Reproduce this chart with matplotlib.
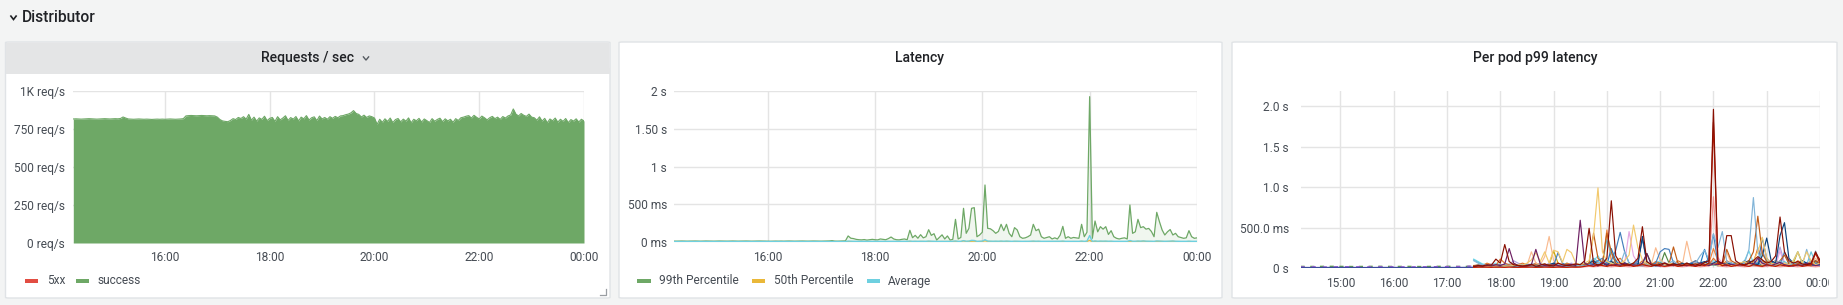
import numpy as np
import matplotlib
matplotlib.use("Agg")
import matplotlib.pyplot as plt
from matplotlib.patches import FancyBboxPatch, Rectangle
from matplotlib.lines import Line2D
from matplotlib.transforms import Bbox, TransformedBbox

W, H = 1843, 305
plt.rcParams['font.family'] = ['Roboto', 'DejaVu Sans']

# ---------------- data ----------------
section_title = "Distributor"
panel_titles = ["Requests / sec", "Latency", "Per pod p99 latency"]

series_start_min = 855   # 14:15
series_step_min = 3

success_rps = [
    816, 817, 816, 815, 816, 817, 818, 817, 816, 815, 816, 817, 818, 817, 816, 817, 818, 817, 819,
    829, 822,
    816, 815, 814, 815, 816, 815, 814, 815, 814, 813, 814, 815, 814, 815, 814, 815, 816, 815, 814, 815, 816, 818,
    836, 838, 839, 838, 837, 838, 839, 838, 837, 838, 837, 836,
    828, 812,
    803, 800, 798, 806,
    818, 812, 826, 819, 831, 815, 846,
    808, 828, 802, 823, 813, 834, 805, 820, 826, 800, 831, 810, 822, 837, 806, 825, 815, 832, 803, 828,
    817, 838, 809, 824, 830, 805, 835, 816, 826,
    814, 831, 820, 833, 824, 836, 838, 844,
    848, 856, 871, 852,
    846, 829, 841, 826, 836, 831,
    822, 781,
    814, 794, 817, 800, 822, 792, 812, 819, 797, 815, 802, 823, 791, 814, 804, 820, 796, 816, 805, 793,
    818, 801, 813, 821, 798, 817, 803, 814, 794, 818, 806, 824, 828, 834,
    838, 822, 840, 827, 816, 835, 824, 810, 824, 833,
    818, 828, 813, 832, 822, 836, 842,
    882,
    848, 836, 852, 840, 833, 848, 828,
    824, 808, 830, 802, 820, 791, 816, 804, 822, 795, 814, 800, 819, 792, 812, 802, 817, 796, 814, 803,
]

p99_ms = [
    12, 11, 12, 13, 12, 11, 12, 12, 13, 12, 11, 12, 13, 12, 12, 11, 12, 13, 12, 12,
    11, 12, 13, 12, 11, 12, 12, 13, 12, 11, 12, 12, 13, 12, 12, 11, 10, 11, 12, 11,
    12, 11, 12, 13, 12, 11, 12, 12, 13, 12, 11, 12, 13, 12, 12, 11, 12, 13, 14, 18,
    12, 11, 12, 13,
    15, 80, 50, 45, 35, 30, 28, 32, 25, 30, 35, 30, 28, 40, 35, 30, 45, 66, 40, 30,
    28, 35, 40, 30, 155, 57, 88, 50, 97, 55, 70, 163, 88,
    110, 26, 60, 95, 40, 80, 26, 35, 300, 40, 60, 446, 115, 180, 446, 455, 70, 93, 130, 755,
    181, 175, 150, 115, 140, 234, 150, 234, 115, 70, 190, 160, 70, 49, 55, 70, 93, 234, 150, 170,
    70, 49, 60, 70, 40, 55, 40, 90, 207, 49, 70, 49, 60, 55, 49, 234, 70, 130, 1925, 49,
    278, 135, 203, 170, 203, 100, 150, 70, 49, 40, 49, 55, 40, 490, 115, 135, 300, 190, 203, 170,
    180, 140, 70, 393, 270, 160, 93, 135, 165, 93, 115, 70, 60, 49, 55, 150, 70, 49, 55,
]
p50_ms = [
    4, 5, 4, 4, 5, 4, 5, 4, 4, 5, 4, 4, 5, 4, 5, 4, 4, 5, 4, 4,
    5, 4, 4, 5, 4, 5, 4, 4, 5, 4, 4, 5, 4, 4, 5, 4, 5, 4, 4, 5,
    4, 4, 5, 4, 5, 4, 4, 5, 4, 4, 5, 4, 4, 5, 4, 5, 4, 4, 5, 4,
    4, 5, 4, 5, 5,
    6, 6, 5, 6, 5, 6, 6, 5, 6, 5, 6, 5, 6, 6, 5, 6, 7, 6, 5, 6,
    6, 5, 6, 8, 6, 7, 6, 7, 6, 6, 8, 6, 6, 5, 6, 6, 5, 6, 5, 7,
    9, 6, 6, 14, 7, 8, 10, 11, 6, 7, 8, 16, 8, 7, 6, 7, 6, 8, 6, 8,
    6, 5, 7, 6, 5, 5, 6, 5, 6, 8, 6, 7, 5, 5, 6, 5, 5, 6, 5, 6,
    8, 5, 6, 5, 6, 5, 5, 8, 5, 7, 22, 5, 9, 6, 8, 7, 8, 6, 7, 5,
    5, 5, 5, 6, 5, 10, 6, 6, 9, 7, 12, 7, 7, 6, 5, 9, 8, 6, 5, 6,
    7, 11, 6, 5, 5, 5, 5, 7, 5, 5, 5,
]
avg_ms = [
    5, 6, 5, 5, 6, 5, 6, 5, 5, 6, 5, 5, 6, 5, 6, 5, 5, 6, 5, 5,
    6, 5, 5, 6, 5, 6, 5, 5, 6, 5, 5, 6, 5, 5, 6, 5, 6, 5, 5, 6,
    5, 5, 6, 5, 6, 5, 5, 6, 5, 5, 6, 5, 5, 6, 5, 6, 5, 5, 6, 5,
    5, 6, 5, 6, 6,
    12, 10, 9, 9, 8, 9, 9, 8, 9, 8, 9, 8, 9, 9, 8, 9, 10, 9, 8, 9,
    9, 8, 9, 12, 9, 10, 9, 10, 9, 9, 12, 10, 9, 8, 9, 9, 8, 9, 8, 10,
    13, 9, 9, 18, 10, 12, 22, 20, 9, 10, 12, 30, 12, 11, 10, 11, 10, 12, 10, 12,
    10, 9, 11, 10, 9, 9, 9, 9, 10, 12, 10, 11, 9, 9, 9, 9, 9, 9, 9, 10,
    12, 9, 9, 9, 9, 9, 9, 12, 9, 12, 85, 9, 14, 10, 12, 11, 12, 10, 11, 9,
    9, 9, 9, 9, 9, 20, 10, 10, 13, 11, 14, 11, 11, 10, 9, 14, 12, 10, 9, 10,
    11, 13, 10, 9, 9, 9, 9, 11, 9, 9, 9,
]

# per pod p99 latency (ms), pods alive from 17:30 on a 5-minute grid
pod_start_min = 1050
pod_step_min = 5
pod_a = [20, 30, 25, 40, 35, 110, 60, 290, 80, 40, 30, 25,
         30, 45, 20, 35, 50, 30, 25, 60, 40, 30, 35, 50,
         40, 90, 490, 60, 35, 50, 120, 830, 150, 60, 40, 35,
         60, 120, 510, 80, 40, 30, 45, 60, 35, 50, 40, 30,
         60, 40, 50, 30, 70, 90, 1960, 80, 60, 400, 400, 90,
         50, 40, 60, 90, 140, 100, 60, 80, 150, 630, 200, 90,
         60, 80, 50, 40, 60, 200, 90]
pod_b = [15, 25, 20, 30, 25, 40, 30, 50, 240, 60, 30, 20,
         25, 40, 230, 50, 30, 25, 40, 30, 20, 35, 45, 30,
         590, 60, 30, 40, 25, 70, 40, 30, 45, 35, 60, 30,
         40, 30, 60, 180, 40, 30, 25, 60, 40, 30, 45, 35,
         30, 40, 25, 60, 45, 30, 50, 40, 60, 30, 45, 35,
         40, 30, 60, 45, 120, 60, 40, 30, 50, 70, 40, 30,
         25, 40, 30, 60, 45, 30, 40]
pod_c = [10, 15, 20, 15, 25, 20, 30, 25, 20, 30, 40, 35,
         60, 100, 190, 80, 200, 60, 220, 200, 70, 230, 190, 60,
         40, 60, 90, 400, 990, 200, 80, 60, 40, 50, 90, 160,
         530, 250, 100, 60, 40, 30, 50, 40, 60, 30, 45, 35,
         40, 30, 50, 40, 60, 30, 45, 35, 40, 50, 30, 40,
         60, 80, 40, 90, 200, 380, 120, 60, 40, 30, 60, 40,
         90, 200, 60, 200, 90, 40, 60]
pod_d = [90, 60, 40, 30, 20, 25, 30, 20, 25, 30, 20, 40,
         30, 20, 25, 35, 20, 30, 25, 40, 30, 20, 30, 35,
         30, 25, 40, 30, 60, 40, 90, 50, 30, 40, 200, 60,
         40, 30, 25, 40, 30, 20, 40, 30, 60, 90, 40, 30,
         40, 30, 60, 150, 220, 100, 420, 250, 450, 80, 60, 40,
         30, 60, 230, 870, 200, 60, 40, 30, 50, 90, 40, 30,
         60, 40, 30, 230, 40, 210, 50]
pod_e = [30, 20, 25, 30, 20, 40, 30, 25, 30, 40, 30, 25,
         20, 30, 40, 25, 30, 40, 35, 25, 30, 40, 30, 35,
         30, 40, 60, 430, 120, 60, 430, 200, 60, 40, 30, 60,
         40, 30, 50, 40, 60, 30, 40, 30, 50, 260, 60, 40,
         50, 30, 40, 60, 30, 50, 40, 60, 30, 230, 90, 60,
         40, 50, 90, 200, 640, 180, 80, 60, 40, 90, 160, 50,
         40, 60, 50, 40, 30, 90, 60]
pod_f = [10, 20, 15, 20, 25, 15, 20, 30, 20, 15, 20, 25,
         20, 30, 25, 15, 20, 40, 60, 30, 25, 20, 30, 25,
         40, 30, 60, 90, 40, 60, 30, 80, 40, 30, 60, 50,
         30, 40, 390, 60, 40, 30, 60, 40, 30, 50, 40, 60,
         30, 50, 40, 60, 80, 40, 60, 90, 40, 60, 50, 30,
         40, 60, 90, 50, 40, 150, 370, 90, 60, 400, 560, 120,
         60, 40, 90, 60, 40, 90, 50]
pod_g = [15, 25, 30, 20, 40, 30, 25, 35, 30, 20, 25, 30,
         40, 30, 25, 35, 30, 40, 30, 190, 60, 30, 40, 30,
         30, 50, 40, 60, 90, 120, 60, 90, 220, 440, 200, 60,
         40, 90, 350, 80, 40, 60, 200, 240, 230, 60, 40, 30,
         40, 60, 90, 50, 60, 120, 420, 60, 40, 30, 60, 50,
         40, 90, 60, 100, 40, 370, 120, 60, 40, 30, 200, 60,
         40, 60, 30, 40, 50, 60, 40]
pod_h = [20, 30, 25, 40, 30, 20, 35, 30, 25, 60, 30, 25,
         30, 200, 60, 40, 140, 390, 90, 40, 60, 30, 40, 60,
         30, 40, 60, 90, 40, 60, 30, 40, 50, 60, 40, 30,
         50, 40, 60, 30, 40, 250, 100, 60, 40, 30, 60, 40,
         330, 90, 40, 60, 30, 40, 60, 30, 40, 190, 60, 40,
         30, 50, 40, 60, 90, 40, 60, 30, 90, 40, 60, 30,
         40, 60, 30, 50, 40, 120, 60]
pod_i = [100, 70, 40, 30, 25, 30, 20, 30, 25, 20, 30, 40,
         30, 25, 40, 30, 20, 30, 40, 30, 25, 35, 30, 40,
         30, 40, 60, 120, 80, 60, 350, 180, 60, 40, 30, 60,
         40, 30, 60, 40, 30, 40, 30, 60, 40, 30, 40, 60,
         30, 40, 50, 30, 60, 40, 30, 60, 40, 30, 50, 40,
         30, 60, 40, 30, 60, 200, 90, 40, 30, 60, 80, 40,
         90, 200, 60, 40, 200, 60, 30]
pod_j = [10, 15, 20, 15, 20, 15, 25, 20, 15, 20, 25, 20,
         25, 20, 30, 25, 20, 25, 30, 20, 25, 30, 20, 25,
         30, 20, 40, 30, 60, 40, 30, 60, 40, 30, 60, 450,
         150, 60, 40, 30, 40, 30, 60, 40, 30, 40, 30, 60,
         40, 30, 60, 40, 30, 60, 40, 130, 60, 40, 30, 40,
         60, 40, 30, 40, 60, 220, 90, 40, 30, 210, 40, 30,
         40, 60, 30, 40, 60, 30, 40]
pod_k = [10, 12, 15, 10, 12, 15, 12, 10, 15, 12, 10, 15,
         12, 15, 10, 12, 15, 20, 15, 12, 15, 20, 12, 15,
         20, 30, 25, 40, 30, 60, 40, 30, 50, 40, 30, 40,
         30, 60, 40, 180, 60, 40, 30, 190, 60, 40, 30, 40,
         30, 40, 60, 30, 40, 30, 60, 40, 30, 40, 60, 30,
         40, 30, 60, 40, 30, 40, 60, 30, 40, 60, 30, 40,
         30, 40, 60, 30, 40, 30, 40]
pod_l = [12, 18, 15, 20, 25, 15, 20, 25, 30, 20, 25, 20,
         25, 30, 20, 25, 30, 20, 25, 60, 30, 25, 30, 20,
         30, 25, 40, 30, 60, 40, 470, 90, 40, 30, 60, 40,
         30, 40, 60, 40, 30, 60, 40, 30, 40, 60, 30, 40,
         60, 40, 30, 60, 40, 60, 240, 90, 40, 60, 30, 40,
         60, 40, 90, 40, 60, 90, 40, 30, 60, 40, 30, 60,
         40, 30, 60, 40, 30, 60, 40]
pod_m = [8, 10, 12, 10, 8, 12, 10, 8, 12, 10, 8, 10,
         10, 12, 8, 10, 12, 10, 8, 12, 10, 8, 12, 10,
         12, 20, 30, 20, 40, 30, 20, 40, 30, 20, 30, 40,
         20, 30, 40, 30, 20, 40, 30, 20, 30, 40, 20, 30,
         40, 30, 20, 40, 30, 60, 1800, 60, 30, 40, 20, 30,
         40, 30, 20, 40, 30, 20, 40, 30, 20, 40, 30, 20,
         30, 40, 20, 30, 40, 180, 60]
pod_n = [5, 8, 10, 8, 6, 10, 8, 6, 10, 8, 6, 8,
         8, 10, 6, 8, 10, 8, 6, 10, 8, 6, 10, 8,
         10, 15, 20, 15, 20, 25, 20, 15, 20, 25, 20, 15,
         20, 25, 20, 15, 20, 25, 20, 15, 20, 25, 20, 15,
         20, 25, 20, 15, 20, 25, 880, 25, 20, 15, 20, 25,
         20, 15, 20, 25, 20, 15, 20, 25, 20, 15, 20, 25,
         20, 15, 20, 25, 20, 15, 20]
pod_o = [110, 80, 50, 40, 30, 60, 40, 30, 50, 40, 30, 40,
         30, 50, 40, 60, 30, 40, 50, 30, 40, 60, 40, 30,
         50, 40, 60, 90, 150, 60, 40, 90, 60, 40, 50, 60,
         40, 60, 30, 50, 40, 60, 90, 40, 60, 30, 50, 40,
         60, 40, 30, 50, 60, 40, 90, 60, 40, 60, 30, 50,
         40, 90, 210, 60, 40, 60, 90, 40, 60, 30, 50, 40,
         60, 40, 90, 60, 40, 60, 40]
pod_p = [20, 30, 40, 30, 50, 40, 30, 50, 40, 90, 60, 40,
         50, 40, 60, 40, 30, 60, 40, 50, 30, 40, 60, 40,
         30, 60, 40, 70, 50, 90, 60, 40, 60, 50, 40, 60,
         40, 60, 40, 50, 40, 60, 40, 70, 40, 60, 40, 50,
         60, 40, 70, 50, 40, 90, 60, 40, 50, 60, 40, 60,
         50, 70, 40, 60, 40, 90, 60, 40, 60, 260, 60, 40,
         50, 60, 40, 70, 40, 60, 50]
pod_q = [30, 40, 30, 60, 40, 30, 110, 60, 40, 30, 40, 60,
         40, 30, 60, 40, 50, 30, 60, 40, 30, 60, 40, 50,
         40, 60, 40, 90, 60, 40, 60, 40, 90, 120, 60, 40,
         60, 40, 90, 60, 40, 80, 60, 40, 60, 40, 90, 60,
         40, 60, 90, 40, 60, 40, 120, 60, 40, 90, 60, 40,
         60, 40, 90, 60, 250, 90, 60, 40, 90, 60, 40, 60,
         40, 90, 60, 40, 90, 60, 120]
pod_r = [25, 35, 30, 40, 30, 25, 40, 30, 25, 40, 30, 25,
         30, 40, 25, 30, 40, 30, 25, 40, 30, 40, 25, 30,
         40, 30, 60, 40, 30, 60, 40, 240, 90, 40, 60, 40,
         30, 60, 40, 30, 60, 40, 30, 60, 40, 30, 60, 40,
         40, 60, 30, 40, 230, 60, 40, 30, 60, 40, 30, 60,
         40, 60, 90, 40, 60, 40, 30, 60, 90, 40, 30, 60,
         40, 30, 60, 40, 30, 40, 30]
pod_s = [10, 20, 15, 25, 20, 15, 25, 20, 30, 25, 20, 30,
         25, 30, 40, 30, 25, 40, 210, 60, 30, 40, 30, 25,
         30, 40, 30, 60, 40, 30, 40, 30, 60, 40, 30, 40,
         60, 40, 30, 40, 30, 60, 40, 30, 40, 60, 30, 40,
         30, 40, 60, 30, 40, 60, 30, 40, 30, 60, 40, 30,
         40, 60, 30, 40, 60, 30, 40, 30, 60, 40, 30, 40,
         60, 200, 60, 40, 30, 40, 30]
pod_t = [15, 22, 28, 18, 33, 24, 19, 31, 26, 17, 35, 23,
         21, 34, 27, 16, 38, 24, 20, 32, 29, 18, 36, 22,
         33, 26, 45, 31, 22, 48, 35, 27, 42, 30, 24, 47,
         36, 23, 44, 29, 25, 50, 33, 21, 46, 37, 26, 41,
         34, 22, 49, 28, 27, 43, 38, 24, 45, 31, 23, 48,
         35, 26, 42, 30, 21, 47, 37, 25, 44, 32, 28, 46,
         33, 24, 41, 36, 22, 45, 29]

# pods that ran before 17:30, 15-minute grid
old_start_min = 855
old_step_min = 15
old_pod_navy = [6, 5, 6, 7, 6, 5, 6, 6, 5, 6, 7, 6, 6, 8]
old_pod_green = [20, 19, 21, 20, 18, 20, 21, 19, 20, 18, 20, 21, 19, 22]
old_pod_purple = [14, 15, 13, 16, 15, 14, 16, 15, 14, 15, 16, 17, 18, 25]

main_xticks_min = [960, 1080, 1200, 1320, 1440]
main_xtick_labels = ["16:00", "18:00", "20:00", "22:00", "00:00"]
pod_xticks_min = [900, 960, 1020, 1080, 1140, 1200, 1260, 1320, 1380, 1440]
pod_xtick_labels = ["15:00", "16:00", "17:00", "18:00", "19:00", "20:00",
                    "21:00", "22:00", "23:00", "00:00"]
rps_yticks = [0, 250, 500, 750, 1000]
rps_ytick_labels = ["0 req/s", "250 req/s", "500 req/s", "750 req/s", "1K req/s"]
lat_yticks = [0, 0.5, 1.0, 1.5, 2.0]
lat_ytick_labels = ["0 ms", "500 ms", "1 s", "1.50 s", "2 s"]
pod_yticks = [0, 0.5, 1.0, 1.5, 2.0]
pod_ytick_labels = ["0 s", "500.0 ms", "1.0 s", "1.5 s", "2.0 s"]

legend1 = ["5xx", "success"]
legend2 = ["99th Percentile", "50th Percentile", "Average"]

# ---------------- styling ----------------
BG = "#f3f4f4"
PANEL_EDGE = "#e0e3e6"
GRID = "#e4e4e4"
TXT = "#464c54"
TITLE = "#202226"
GREEN = "#6ea866"
RED = "#e24d42"
ORANGE = "#eab839"
CYAN = "#6ed0e0"

pod_series = [
    (pod_t, "#b7dbab"), (pod_k, "#508642"), (pod_s, "#cca300"), (pod_o, "#70dbed"),
    (pod_p, "#aea2e0"), (pod_n, "#f29191"), (pod_j, "#e5a8e2"), (pod_l, "#ef843c"),
    (pod_q, "#e0752d"), (pod_r, "#1f78c1"),
    (pod_i, "#65c5db"), (pod_h, "#f9ba8f"), (pod_g, "#447ebc"), (pod_f, "#0a437c"),
    (pod_e, "#c15c17"), (pod_d, "#82b5d8"), (pod_c, "#f2c96d"), (pod_b, "#6d1f62"),
    (pod_m, "#bf1b00"), (pod_a, "#890f02"),
]
old_series = [
    (old_pod_green, "#629e51", (0, (3, 4))),
    (old_pod_purple, "#a05bd6", (0, (3, 5))),
    (old_pod_navy, "#3b4a9c", "-"),
]

FS_TICK = 8.6

fig = plt.figure(figsize=(W / 100, H / 100), dpi=100)
fig.patch.set_facecolor(BG)


def fx(x):
    return x / W


def fy(y):
    return 1 - y / H


def add_axes_px(left, top, right, bottom):
    return fig.add_axes([fx(left), fy(bottom), (right - left) / W, (bottom - top) / H])


def panel(x0, x1, y0=42, y1=298):
    p = FancyBboxPatch((fx(x0), fy(y1)), fx(x1) - fx(x0), fy(y0) - fy(y1),
                       boxstyle="round,pad=0,rounding_size=0.002",
                       transform=fig.transFigure, facecolor="white",
                       edgecolor=PANEL_EDGE, linewidth=1.0, zorder=-3)
    fig.patches.append(p)


def chevron(xc, yc, w=3.2, h=2.2, lw=1.1, color=TITLE):
    fig.lines.append(Line2D([fx(xc - w), fx(xc), fx(xc + w)],
                            [fy(yc - h), fy(yc + h), fy(yc - h)],
                            transform=fig.transFigure, color=color, lw=lw,
                            solid_joinstyle="miter"))


def legend_item(x_rect, y, color, label, x_text):
    fig.patches.append(Rectangle((fx(x_rect), fy(y + 2)), 13.5 / W, 4 / H,
                                 transform=fig.transFigure, facecolor=color,
                                 edgecolor="none"))
    fig.text(fx(x_text), fy(y), label, fontsize=FS_TICK, color=TXT,
             ha="left", va="center")


def style_axes(ax, xticks, xlabels, yticks, ylabels, xpad, ypad):
    for s in ax.spines.values():
        s.set_visible(False)
    ax.set_facecolor("none")
    ax.set_xticks(xticks)
    ax.set_xticklabels(xlabels)
    ax.set_yticks(yticks)
    ax.set_yticklabels(ylabels)
    ax.tick_params(axis="both", length=0, labelsize=FS_TICK, labelcolor=TXT)
    ax.tick_params(axis="x", pad=xpad)
    ax.tick_params(axis="y", pad=ypad)
    ax.grid(True, color=GRID, linewidth=1.0)
    ax.set_axisbelow(True)


# ---- section header ----
chevron(13.5, 17.8, w=2.6, h=1.7, lw=1.2)
fig.text(fx(21.5), fy(17), section_title, fontsize=11.2, fontweight=500,
         color=TITLE, ha="left", va="center")

# ---- panels ----
panel(5.5, 610)
panel(619, 1222)
panel(1232, 1837)

# header band of panel 1 (hovered)
hdr = FancyBboxPatch((fx(6), fy(74)), fx(609.5) - fx(6), fy(42.5) - fy(74),
                     boxstyle="round,pad=0,rounding_size=0.002",
                     transform=fig.transFigure, facecolor="#e4e5e6",
                     edgecolor="none", zorder=-2)
fig.patches.append(hdr)
fig.patches.append(Rectangle((fx(6), fy(74)), fx(609.5) - fx(6), 6 / H,
                             transform=fig.transFigure, facecolor="#e4e5e6",
                             edgecolor="none", zorder=-2))

fig.text(fx(307.5), fy(58), panel_titles[0], fontsize=10.1, fontweight=500,
         color=TITLE, ha="center", va="center")
chevron(366, 58.5, w=2.6, h=1.6, lw=1.0, color="#555a60")
fig.text(fx(920), fy(58), panel_titles[1], fontsize=10.1, fontweight=500,
         color=TITLE, ha="center", va="center")
fig.text(fx(1535), fy(58), panel_titles[2], fontsize=10.1, fontweight=500,
         color=TITLE, ha="center", va="center")

# resize handle on panel 1
fig.lines.append(Line2D([fx(600), fx(606), fx(606)], [fy(295), fy(295), fy(289)],
                        transform=fig.transFigure, color="#9a9ea3", lw=0.9))

# ---- panel 1: requests / sec ----
t_main = series_start_min + series_step_min * np.arange(len(success_rps))
ax1 = add_axes_px(73.3, 91, 584, 243)
ax1.fill_between(t_main, 0, success_rps, color=GREEN, linewidth=0, zorder=2)
ax1.plot(t_main, success_rps, color=GREEN, lw=0.8, zorder=3)
ax1.set_xlim(855, 1440)
ax1.set_ylim(0, 1000)
style_axes(ax1, main_xticks_min, main_xtick_labels, rps_yticks, rps_ytick_labels,
           xpad=6.0, ypad=5.8)
legend_item(24.5, 281, RED, legend1[0], 46.7)
legend_item(75.5, 281, GREEN, legend1[1], 97.7)

# ---- panel 2: latency ----
t2 = series_start_min + series_step_min * np.arange(len(p99_ms))
ax2 = add_axes_px(673.7, 91, 1197, 242)
p99_s = np.array(p99_ms) / 1000.0
ax2.fill_between(t2, 0, p99_s, color=GREEN, alpha=0.10, linewidth=0, zorder=2)
ax2.plot(t2, p99_s, color=GREEN, lw=0.9, zorder=3)
t50 = series_start_min + series_step_min * np.arange(len(p50_ms))
ax2.plot(t50, np.array(p50_ms) / 1000.0, color=ORANGE, lw=0.9, zorder=3)
tav = series_start_min + series_step_min * np.arange(len(avg_ms))
ax2.plot(tav, np.array(avg_ms) / 1000.0, color=CYAN, lw=1.0, zorder=4)
ax2.set_xlim(855, 1440)
ax2.set_ylim(0, 2.0)
style_axes(ax2, main_xticks_min, main_xtick_labels, lat_yticks, lat_ytick_labels,
           xpad=6.3, ypad=4.8)
legend_item(637, 281, GREEN, legend2[0], 659)
legend_item(751.5, 281, ORANGE, legend2[1], 774)
legend_item(866.5, 281, CYAN, legend2[2], 888)

# ---- panel 3: per pod p99 latency ----
ax3 = add_axes_px(1300.5, 90.7, 1820, 268)
for vals, col, ls in old_series:
    t_old = old_start_min + old_step_min * np.arange(len(vals))
    ax3.plot(t_old, np.array(vals) / 1000.0, color=col, lw=1.0, linestyle=ls, zorder=3)
for vals, col in pod_series:
    t_pod = pod_start_min + pod_step_min * np.arange(len(vals))
    ax3.plot(t_pod, np.array(vals) / 1000.0, color=col, lw=0.85, zorder=3)
ax3.set_xlim(855, 1440)
ax3.set_ylim(0, 2.19)
style_axes(ax3, pod_xticks_min, pod_xtick_labels, pod_yticks, pod_ytick_labels,
           xpad=6.3, ypad=8.3)

fig.canvas.draw()
clip = TransformedBbox(Bbox([[fx(1232), fy(298)], [fx(1829), fy(42)]]), fig.transFigure)
for lab in ax3.get_xticklabels():
    lab.set_clip_on(True)
    lab.set_clip_box(clip)

fig.savefig("out.png", dpi=100, facecolor=BG)
